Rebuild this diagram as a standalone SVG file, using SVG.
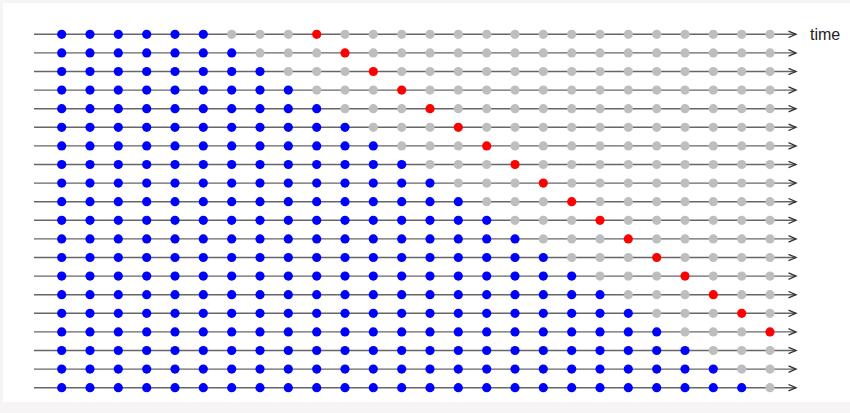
<svg xmlns="http://www.w3.org/2000/svg" width="850" height="413" viewBox="0 0 850 413">
<style>
.ln{stroke:#666;stroke-width:1.4;fill:none}
.tr{fill:#0000ff}
.ts{fill:#bebebe}
.fc{fill:#ff0000}
.lbl{font-family:"Liberation Sans",Arial,sans-serif;font-size:16px;fill:#222}
</style>
<defs>
<marker id="ah" markerWidth="10" markerHeight="8" refX="8" refY="4" orient="auto" markerUnits="userSpaceOnUse">
<path d="M0.5,0.8 L8,4 L0.5,7.2" fill="none" stroke="#333" stroke-width="1.3"/>
</marker>
<circle id="d" r="4.6"/>
</defs>
<rect x="0" y="0" width="850" height="413" fill="#f6f4f4"/>
<rect x="3" y="3" width="847" height="399" fill="#ffffff"/>
<g id="connectors">
<line class="ln" x1="34" y1="34.3" x2="796" y2="34.3" marker-end="url(#ah)"/>
<line class="ln" x1="34" y1="52.9" x2="796" y2="52.9" marker-end="url(#ah)"/>
<line class="ln" x1="34" y1="71.5" x2="796" y2="71.5" marker-end="url(#ah)"/>
<line class="ln" x1="34" y1="90.1" x2="796" y2="90.1" marker-end="url(#ah)"/>
<line class="ln" x1="34" y1="108.7" x2="796" y2="108.7" marker-end="url(#ah)"/>
<line class="ln" x1="34" y1="127.3" x2="796" y2="127.3" marker-end="url(#ah)"/>
<line class="ln" x1="34" y1="145.9" x2="796" y2="145.9" marker-end="url(#ah)"/>
<line class="ln" x1="34" y1="164.5" x2="796" y2="164.5" marker-end="url(#ah)"/>
<line class="ln" x1="34" y1="183.1" x2="796" y2="183.1" marker-end="url(#ah)"/>
<line class="ln" x1="34" y1="201.7" x2="796" y2="201.7" marker-end="url(#ah)"/>
<line class="ln" x1="34" y1="220.3" x2="796" y2="220.3" marker-end="url(#ah)"/>
<line class="ln" x1="34" y1="238.9" x2="796" y2="238.9" marker-end="url(#ah)"/>
<line class="ln" x1="34" y1="257.5" x2="796" y2="257.5" marker-end="url(#ah)"/>
<line class="ln" x1="34" y1="276.1" x2="796" y2="276.1" marker-end="url(#ah)"/>
<line class="ln" x1="34" y1="294.7" x2="796" y2="294.7" marker-end="url(#ah)"/>
<line class="ln" x1="34" y1="313.3" x2="796" y2="313.3" marker-end="url(#ah)"/>
<line class="ln" x1="34" y1="331.9" x2="796" y2="331.9" marker-end="url(#ah)"/>
<line class="ln" x1="34" y1="350.5" x2="796" y2="350.5" marker-end="url(#ah)"/>
<line class="ln" x1="34" y1="369.1" x2="796" y2="369.1" marker-end="url(#ah)"/>
<line class="ln" x1="34" y1="387.7" x2="796" y2="387.7" marker-end="url(#ah)"/>
</g>
<g id="rows">
<g id="row1" transform="translate(0,34.3)">
<use href="#d" class="tr" x="61.7"/><use href="#d" class="tr" x="90.0"/><use href="#d" class="tr" x="118.3"/><use href="#d" class="tr" x="146.7"/><use href="#d" class="tr" x="175.0"/><use href="#d" class="tr" x="203.3"/><use href="#d" class="ts" x="231.7"/><use href="#d" class="ts" x="260.0"/><use href="#d" class="ts" x="288.3"/><use href="#d" class="fc" x="316.7"/><use href="#d" class="ts" x="345.0"/><use href="#d" class="ts" x="373.3"/><use href="#d" class="ts" x="401.7"/><use href="#d" class="ts" x="430.0"/><use href="#d" class="ts" x="458.3"/><use href="#d" class="ts" x="486.7"/><use href="#d" class="ts" x="515.0"/><use href="#d" class="ts" x="543.3"/><use href="#d" class="ts" x="571.7"/><use href="#d" class="ts" x="600.0"/><use href="#d" class="ts" x="628.3"/><use href="#d" class="ts" x="656.7"/><use href="#d" class="ts" x="685.0"/><use href="#d" class="ts" x="713.3"/><use href="#d" class="ts" x="741.7"/><use href="#d" class="ts" x="770.0"/>
</g>
<g id="row2" transform="translate(0,52.9)">
<use href="#d" class="tr" x="61.7"/><use href="#d" class="tr" x="90.0"/><use href="#d" class="tr" x="118.3"/><use href="#d" class="tr" x="146.7"/><use href="#d" class="tr" x="175.0"/><use href="#d" class="tr" x="203.3"/><use href="#d" class="tr" x="231.7"/><use href="#d" class="ts" x="260.0"/><use href="#d" class="ts" x="288.3"/><use href="#d" class="ts" x="316.7"/><use href="#d" class="fc" x="345.0"/><use href="#d" class="ts" x="373.3"/><use href="#d" class="ts" x="401.7"/><use href="#d" class="ts" x="430.0"/><use href="#d" class="ts" x="458.3"/><use href="#d" class="ts" x="486.7"/><use href="#d" class="ts" x="515.0"/><use href="#d" class="ts" x="543.3"/><use href="#d" class="ts" x="571.7"/><use href="#d" class="ts" x="600.0"/><use href="#d" class="ts" x="628.3"/><use href="#d" class="ts" x="656.7"/><use href="#d" class="ts" x="685.0"/><use href="#d" class="ts" x="713.3"/><use href="#d" class="ts" x="741.7"/><use href="#d" class="ts" x="770.0"/>
</g>
<g id="row3" transform="translate(0,71.5)">
<use href="#d" class="tr" x="61.7"/><use href="#d" class="tr" x="90.0"/><use href="#d" class="tr" x="118.3"/><use href="#d" class="tr" x="146.7"/><use href="#d" class="tr" x="175.0"/><use href="#d" class="tr" x="203.3"/><use href="#d" class="tr" x="231.7"/><use href="#d" class="tr" x="260.0"/><use href="#d" class="ts" x="288.3"/><use href="#d" class="ts" x="316.7"/><use href="#d" class="ts" x="345.0"/><use href="#d" class="fc" x="373.3"/><use href="#d" class="ts" x="401.7"/><use href="#d" class="ts" x="430.0"/><use href="#d" class="ts" x="458.3"/><use href="#d" class="ts" x="486.7"/><use href="#d" class="ts" x="515.0"/><use href="#d" class="ts" x="543.3"/><use href="#d" class="ts" x="571.7"/><use href="#d" class="ts" x="600.0"/><use href="#d" class="ts" x="628.3"/><use href="#d" class="ts" x="656.7"/><use href="#d" class="ts" x="685.0"/><use href="#d" class="ts" x="713.3"/><use href="#d" class="ts" x="741.7"/><use href="#d" class="ts" x="770.0"/>
</g>
<g id="row4" transform="translate(0,90.1)">
<use href="#d" class="tr" x="61.7"/><use href="#d" class="tr" x="90.0"/><use href="#d" class="tr" x="118.3"/><use href="#d" class="tr" x="146.7"/><use href="#d" class="tr" x="175.0"/><use href="#d" class="tr" x="203.3"/><use href="#d" class="tr" x="231.7"/><use href="#d" class="tr" x="260.0"/><use href="#d" class="tr" x="288.3"/><use href="#d" class="ts" x="316.7"/><use href="#d" class="ts" x="345.0"/><use href="#d" class="ts" x="373.3"/><use href="#d" class="fc" x="401.7"/><use href="#d" class="ts" x="430.0"/><use href="#d" class="ts" x="458.3"/><use href="#d" class="ts" x="486.7"/><use href="#d" class="ts" x="515.0"/><use href="#d" class="ts" x="543.3"/><use href="#d" class="ts" x="571.7"/><use href="#d" class="ts" x="600.0"/><use href="#d" class="ts" x="628.3"/><use href="#d" class="ts" x="656.7"/><use href="#d" class="ts" x="685.0"/><use href="#d" class="ts" x="713.3"/><use href="#d" class="ts" x="741.7"/><use href="#d" class="ts" x="770.0"/>
</g>
<g id="row5" transform="translate(0,108.7)">
<use href="#d" class="tr" x="61.7"/><use href="#d" class="tr" x="90.0"/><use href="#d" class="tr" x="118.3"/><use href="#d" class="tr" x="146.7"/><use href="#d" class="tr" x="175.0"/><use href="#d" class="tr" x="203.3"/><use href="#d" class="tr" x="231.7"/><use href="#d" class="tr" x="260.0"/><use href="#d" class="tr" x="288.3"/><use href="#d" class="tr" x="316.7"/><use href="#d" class="ts" x="345.0"/><use href="#d" class="ts" x="373.3"/><use href="#d" class="ts" x="401.7"/><use href="#d" class="fc" x="430.0"/><use href="#d" class="ts" x="458.3"/><use href="#d" class="ts" x="486.7"/><use href="#d" class="ts" x="515.0"/><use href="#d" class="ts" x="543.3"/><use href="#d" class="ts" x="571.7"/><use href="#d" class="ts" x="600.0"/><use href="#d" class="ts" x="628.3"/><use href="#d" class="ts" x="656.7"/><use href="#d" class="ts" x="685.0"/><use href="#d" class="ts" x="713.3"/><use href="#d" class="ts" x="741.7"/><use href="#d" class="ts" x="770.0"/>
</g>
<g id="row6" transform="translate(0,127.3)">
<use href="#d" class="tr" x="61.7"/><use href="#d" class="tr" x="90.0"/><use href="#d" class="tr" x="118.3"/><use href="#d" class="tr" x="146.7"/><use href="#d" class="tr" x="175.0"/><use href="#d" class="tr" x="203.3"/><use href="#d" class="tr" x="231.7"/><use href="#d" class="tr" x="260.0"/><use href="#d" class="tr" x="288.3"/><use href="#d" class="tr" x="316.7"/><use href="#d" class="tr" x="345.0"/><use href="#d" class="ts" x="373.3"/><use href="#d" class="ts" x="401.7"/><use href="#d" class="ts" x="430.0"/><use href="#d" class="fc" x="458.3"/><use href="#d" class="ts" x="486.7"/><use href="#d" class="ts" x="515.0"/><use href="#d" class="ts" x="543.3"/><use href="#d" class="ts" x="571.7"/><use href="#d" class="ts" x="600.0"/><use href="#d" class="ts" x="628.3"/><use href="#d" class="ts" x="656.7"/><use href="#d" class="ts" x="685.0"/><use href="#d" class="ts" x="713.3"/><use href="#d" class="ts" x="741.7"/><use href="#d" class="ts" x="770.0"/>
</g>
<g id="row7" transform="translate(0,145.9)">
<use href="#d" class="tr" x="61.7"/><use href="#d" class="tr" x="90.0"/><use href="#d" class="tr" x="118.3"/><use href="#d" class="tr" x="146.7"/><use href="#d" class="tr" x="175.0"/><use href="#d" class="tr" x="203.3"/><use href="#d" class="tr" x="231.7"/><use href="#d" class="tr" x="260.0"/><use href="#d" class="tr" x="288.3"/><use href="#d" class="tr" x="316.7"/><use href="#d" class="tr" x="345.0"/><use href="#d" class="tr" x="373.3"/><use href="#d" class="ts" x="401.7"/><use href="#d" class="ts" x="430.0"/><use href="#d" class="ts" x="458.3"/><use href="#d" class="fc" x="486.7"/><use href="#d" class="ts" x="515.0"/><use href="#d" class="ts" x="543.3"/><use href="#d" class="ts" x="571.7"/><use href="#d" class="ts" x="600.0"/><use href="#d" class="ts" x="628.3"/><use href="#d" class="ts" x="656.7"/><use href="#d" class="ts" x="685.0"/><use href="#d" class="ts" x="713.3"/><use href="#d" class="ts" x="741.7"/><use href="#d" class="ts" x="770.0"/>
</g>
<g id="row8" transform="translate(0,164.5)">
<use href="#d" class="tr" x="61.7"/><use href="#d" class="tr" x="90.0"/><use href="#d" class="tr" x="118.3"/><use href="#d" class="tr" x="146.7"/><use href="#d" class="tr" x="175.0"/><use href="#d" class="tr" x="203.3"/><use href="#d" class="tr" x="231.7"/><use href="#d" class="tr" x="260.0"/><use href="#d" class="tr" x="288.3"/><use href="#d" class="tr" x="316.7"/><use href="#d" class="tr" x="345.0"/><use href="#d" class="tr" x="373.3"/><use href="#d" class="tr" x="401.7"/><use href="#d" class="ts" x="430.0"/><use href="#d" class="ts" x="458.3"/><use href="#d" class="ts" x="486.7"/><use href="#d" class="fc" x="515.0"/><use href="#d" class="ts" x="543.3"/><use href="#d" class="ts" x="571.7"/><use href="#d" class="ts" x="600.0"/><use href="#d" class="ts" x="628.3"/><use href="#d" class="ts" x="656.7"/><use href="#d" class="ts" x="685.0"/><use href="#d" class="ts" x="713.3"/><use href="#d" class="ts" x="741.7"/><use href="#d" class="ts" x="770.0"/>
</g>
<g id="row9" transform="translate(0,183.1)">
<use href="#d" class="tr" x="61.7"/><use href="#d" class="tr" x="90.0"/><use href="#d" class="tr" x="118.3"/><use href="#d" class="tr" x="146.7"/><use href="#d" class="tr" x="175.0"/><use href="#d" class="tr" x="203.3"/><use href="#d" class="tr" x="231.7"/><use href="#d" class="tr" x="260.0"/><use href="#d" class="tr" x="288.3"/><use href="#d" class="tr" x="316.7"/><use href="#d" class="tr" x="345.0"/><use href="#d" class="tr" x="373.3"/><use href="#d" class="tr" x="401.7"/><use href="#d" class="tr" x="430.0"/><use href="#d" class="ts" x="458.3"/><use href="#d" class="ts" x="486.7"/><use href="#d" class="ts" x="515.0"/><use href="#d" class="fc" x="543.3"/><use href="#d" class="ts" x="571.7"/><use href="#d" class="ts" x="600.0"/><use href="#d" class="ts" x="628.3"/><use href="#d" class="ts" x="656.7"/><use href="#d" class="ts" x="685.0"/><use href="#d" class="ts" x="713.3"/><use href="#d" class="ts" x="741.7"/><use href="#d" class="ts" x="770.0"/>
</g>
<g id="row10" transform="translate(0,201.7)">
<use href="#d" class="tr" x="61.7"/><use href="#d" class="tr" x="90.0"/><use href="#d" class="tr" x="118.3"/><use href="#d" class="tr" x="146.7"/><use href="#d" class="tr" x="175.0"/><use href="#d" class="tr" x="203.3"/><use href="#d" class="tr" x="231.7"/><use href="#d" class="tr" x="260.0"/><use href="#d" class="tr" x="288.3"/><use href="#d" class="tr" x="316.7"/><use href="#d" class="tr" x="345.0"/><use href="#d" class="tr" x="373.3"/><use href="#d" class="tr" x="401.7"/><use href="#d" class="tr" x="430.0"/><use href="#d" class="tr" x="458.3"/><use href="#d" class="ts" x="486.7"/><use href="#d" class="ts" x="515.0"/><use href="#d" class="ts" x="543.3"/><use href="#d" class="fc" x="571.7"/><use href="#d" class="ts" x="600.0"/><use href="#d" class="ts" x="628.3"/><use href="#d" class="ts" x="656.7"/><use href="#d" class="ts" x="685.0"/><use href="#d" class="ts" x="713.3"/><use href="#d" class="ts" x="741.7"/><use href="#d" class="ts" x="770.0"/>
</g>
<g id="row11" transform="translate(0,220.3)">
<use href="#d" class="tr" x="61.7"/><use href="#d" class="tr" x="90.0"/><use href="#d" class="tr" x="118.3"/><use href="#d" class="tr" x="146.7"/><use href="#d" class="tr" x="175.0"/><use href="#d" class="tr" x="203.3"/><use href="#d" class="tr" x="231.7"/><use href="#d" class="tr" x="260.0"/><use href="#d" class="tr" x="288.3"/><use href="#d" class="tr" x="316.7"/><use href="#d" class="tr" x="345.0"/><use href="#d" class="tr" x="373.3"/><use href="#d" class="tr" x="401.7"/><use href="#d" class="tr" x="430.0"/><use href="#d" class="tr" x="458.3"/><use href="#d" class="tr" x="486.7"/><use href="#d" class="ts" x="515.0"/><use href="#d" class="ts" x="543.3"/><use href="#d" class="ts" x="571.7"/><use href="#d" class="fc" x="600.0"/><use href="#d" class="ts" x="628.3"/><use href="#d" class="ts" x="656.7"/><use href="#d" class="ts" x="685.0"/><use href="#d" class="ts" x="713.3"/><use href="#d" class="ts" x="741.7"/><use href="#d" class="ts" x="770.0"/>
</g>
<g id="row12" transform="translate(0,238.9)">
<use href="#d" class="tr" x="61.7"/><use href="#d" class="tr" x="90.0"/><use href="#d" class="tr" x="118.3"/><use href="#d" class="tr" x="146.7"/><use href="#d" class="tr" x="175.0"/><use href="#d" class="tr" x="203.3"/><use href="#d" class="tr" x="231.7"/><use href="#d" class="tr" x="260.0"/><use href="#d" class="tr" x="288.3"/><use href="#d" class="tr" x="316.7"/><use href="#d" class="tr" x="345.0"/><use href="#d" class="tr" x="373.3"/><use href="#d" class="tr" x="401.7"/><use href="#d" class="tr" x="430.0"/><use href="#d" class="tr" x="458.3"/><use href="#d" class="tr" x="486.7"/><use href="#d" class="tr" x="515.0"/><use href="#d" class="ts" x="543.3"/><use href="#d" class="ts" x="571.7"/><use href="#d" class="ts" x="600.0"/><use href="#d" class="fc" x="628.3"/><use href="#d" class="ts" x="656.7"/><use href="#d" class="ts" x="685.0"/><use href="#d" class="ts" x="713.3"/><use href="#d" class="ts" x="741.7"/><use href="#d" class="ts" x="770.0"/>
</g>
<g id="row13" transform="translate(0,257.5)">
<use href="#d" class="tr" x="61.7"/><use href="#d" class="tr" x="90.0"/><use href="#d" class="tr" x="118.3"/><use href="#d" class="tr" x="146.7"/><use href="#d" class="tr" x="175.0"/><use href="#d" class="tr" x="203.3"/><use href="#d" class="tr" x="231.7"/><use href="#d" class="tr" x="260.0"/><use href="#d" class="tr" x="288.3"/><use href="#d" class="tr" x="316.7"/><use href="#d" class="tr" x="345.0"/><use href="#d" class="tr" x="373.3"/><use href="#d" class="tr" x="401.7"/><use href="#d" class="tr" x="430.0"/><use href="#d" class="tr" x="458.3"/><use href="#d" class="tr" x="486.7"/><use href="#d" class="tr" x="515.0"/><use href="#d" class="tr" x="543.3"/><use href="#d" class="ts" x="571.7"/><use href="#d" class="ts" x="600.0"/><use href="#d" class="ts" x="628.3"/><use href="#d" class="fc" x="656.7"/><use href="#d" class="ts" x="685.0"/><use href="#d" class="ts" x="713.3"/><use href="#d" class="ts" x="741.7"/><use href="#d" class="ts" x="770.0"/>
</g>
<g id="row14" transform="translate(0,276.1)">
<use href="#d" class="tr" x="61.7"/><use href="#d" class="tr" x="90.0"/><use href="#d" class="tr" x="118.3"/><use href="#d" class="tr" x="146.7"/><use href="#d" class="tr" x="175.0"/><use href="#d" class="tr" x="203.3"/><use href="#d" class="tr" x="231.7"/><use href="#d" class="tr" x="260.0"/><use href="#d" class="tr" x="288.3"/><use href="#d" class="tr" x="316.7"/><use href="#d" class="tr" x="345.0"/><use href="#d" class="tr" x="373.3"/><use href="#d" class="tr" x="401.7"/><use href="#d" class="tr" x="430.0"/><use href="#d" class="tr" x="458.3"/><use href="#d" class="tr" x="486.7"/><use href="#d" class="tr" x="515.0"/><use href="#d" class="tr" x="543.3"/><use href="#d" class="tr" x="571.7"/><use href="#d" class="ts" x="600.0"/><use href="#d" class="ts" x="628.3"/><use href="#d" class="ts" x="656.7"/><use href="#d" class="fc" x="685.0"/><use href="#d" class="ts" x="713.3"/><use href="#d" class="ts" x="741.7"/><use href="#d" class="ts" x="770.0"/>
</g>
<g id="row15" transform="translate(0,294.7)">
<use href="#d" class="tr" x="61.7"/><use href="#d" class="tr" x="90.0"/><use href="#d" class="tr" x="118.3"/><use href="#d" class="tr" x="146.7"/><use href="#d" class="tr" x="175.0"/><use href="#d" class="tr" x="203.3"/><use href="#d" class="tr" x="231.7"/><use href="#d" class="tr" x="260.0"/><use href="#d" class="tr" x="288.3"/><use href="#d" class="tr" x="316.7"/><use href="#d" class="tr" x="345.0"/><use href="#d" class="tr" x="373.3"/><use href="#d" class="tr" x="401.7"/><use href="#d" class="tr" x="430.0"/><use href="#d" class="tr" x="458.3"/><use href="#d" class="tr" x="486.7"/><use href="#d" class="tr" x="515.0"/><use href="#d" class="tr" x="543.3"/><use href="#d" class="tr" x="571.7"/><use href="#d" class="tr" x="600.0"/><use href="#d" class="ts" x="628.3"/><use href="#d" class="ts" x="656.7"/><use href="#d" class="ts" x="685.0"/><use href="#d" class="fc" x="713.3"/><use href="#d" class="ts" x="741.7"/><use href="#d" class="ts" x="770.0"/>
</g>
<g id="row16" transform="translate(0,313.3)">
<use href="#d" class="tr" x="61.7"/><use href="#d" class="tr" x="90.0"/><use href="#d" class="tr" x="118.3"/><use href="#d" class="tr" x="146.7"/><use href="#d" class="tr" x="175.0"/><use href="#d" class="tr" x="203.3"/><use href="#d" class="tr" x="231.7"/><use href="#d" class="tr" x="260.0"/><use href="#d" class="tr" x="288.3"/><use href="#d" class="tr" x="316.7"/><use href="#d" class="tr" x="345.0"/><use href="#d" class="tr" x="373.3"/><use href="#d" class="tr" x="401.7"/><use href="#d" class="tr" x="430.0"/><use href="#d" class="tr" x="458.3"/><use href="#d" class="tr" x="486.7"/><use href="#d" class="tr" x="515.0"/><use href="#d" class="tr" x="543.3"/><use href="#d" class="tr" x="571.7"/><use href="#d" class="tr" x="600.0"/><use href="#d" class="tr" x="628.3"/><use href="#d" class="ts" x="656.7"/><use href="#d" class="ts" x="685.0"/><use href="#d" class="ts" x="713.3"/><use href="#d" class="fc" x="741.7"/><use href="#d" class="ts" x="770.0"/>
</g>
<g id="row17" transform="translate(0,331.9)">
<use href="#d" class="tr" x="61.7"/><use href="#d" class="tr" x="90.0"/><use href="#d" class="tr" x="118.3"/><use href="#d" class="tr" x="146.7"/><use href="#d" class="tr" x="175.0"/><use href="#d" class="tr" x="203.3"/><use href="#d" class="tr" x="231.7"/><use href="#d" class="tr" x="260.0"/><use href="#d" class="tr" x="288.3"/><use href="#d" class="tr" x="316.7"/><use href="#d" class="tr" x="345.0"/><use href="#d" class="tr" x="373.3"/><use href="#d" class="tr" x="401.7"/><use href="#d" class="tr" x="430.0"/><use href="#d" class="tr" x="458.3"/><use href="#d" class="tr" x="486.7"/><use href="#d" class="tr" x="515.0"/><use href="#d" class="tr" x="543.3"/><use href="#d" class="tr" x="571.7"/><use href="#d" class="tr" x="600.0"/><use href="#d" class="tr" x="628.3"/><use href="#d" class="tr" x="656.7"/><use href="#d" class="ts" x="685.0"/><use href="#d" class="ts" x="713.3"/><use href="#d" class="ts" x="741.7"/><use href="#d" class="fc" x="770.0"/>
</g>
<g id="row18" transform="translate(0,350.5)">
<use href="#d" class="tr" x="61.7"/><use href="#d" class="tr" x="90.0"/><use href="#d" class="tr" x="118.3"/><use href="#d" class="tr" x="146.7"/><use href="#d" class="tr" x="175.0"/><use href="#d" class="tr" x="203.3"/><use href="#d" class="tr" x="231.7"/><use href="#d" class="tr" x="260.0"/><use href="#d" class="tr" x="288.3"/><use href="#d" class="tr" x="316.7"/><use href="#d" class="tr" x="345.0"/><use href="#d" class="tr" x="373.3"/><use href="#d" class="tr" x="401.7"/><use href="#d" class="tr" x="430.0"/><use href="#d" class="tr" x="458.3"/><use href="#d" class="tr" x="486.7"/><use href="#d" class="tr" x="515.0"/><use href="#d" class="tr" x="543.3"/><use href="#d" class="tr" x="571.7"/><use href="#d" class="tr" x="600.0"/><use href="#d" class="tr" x="628.3"/><use href="#d" class="tr" x="656.7"/><use href="#d" class="tr" x="685.0"/><use href="#d" class="ts" x="713.3"/><use href="#d" class="ts" x="741.7"/><use href="#d" class="ts" x="770.0"/>
</g>
<g id="row19" transform="translate(0,369.1)">
<use href="#d" class="tr" x="61.7"/><use href="#d" class="tr" x="90.0"/><use href="#d" class="tr" x="118.3"/><use href="#d" class="tr" x="146.7"/><use href="#d" class="tr" x="175.0"/><use href="#d" class="tr" x="203.3"/><use href="#d" class="tr" x="231.7"/><use href="#d" class="tr" x="260.0"/><use href="#d" class="tr" x="288.3"/><use href="#d" class="tr" x="316.7"/><use href="#d" class="tr" x="345.0"/><use href="#d" class="tr" x="373.3"/><use href="#d" class="tr" x="401.7"/><use href="#d" class="tr" x="430.0"/><use href="#d" class="tr" x="458.3"/><use href="#d" class="tr" x="486.7"/><use href="#d" class="tr" x="515.0"/><use href="#d" class="tr" x="543.3"/><use href="#d" class="tr" x="571.7"/><use href="#d" class="tr" x="600.0"/><use href="#d" class="tr" x="628.3"/><use href="#d" class="tr" x="656.7"/><use href="#d" class="tr" x="685.0"/><use href="#d" class="tr" x="713.3"/><use href="#d" class="ts" x="741.7"/><use href="#d" class="ts" x="770.0"/>
</g>
<g id="row20" transform="translate(0,387.7)">
<use href="#d" class="tr" x="61.7"/><use href="#d" class="tr" x="90.0"/><use href="#d" class="tr" x="118.3"/><use href="#d" class="tr" x="146.7"/><use href="#d" class="tr" x="175.0"/><use href="#d" class="tr" x="203.3"/><use href="#d" class="tr" x="231.7"/><use href="#d" class="tr" x="260.0"/><use href="#d" class="tr" x="288.3"/><use href="#d" class="tr" x="316.7"/><use href="#d" class="tr" x="345.0"/><use href="#d" class="tr" x="373.3"/><use href="#d" class="tr" x="401.7"/><use href="#d" class="tr" x="430.0"/><use href="#d" class="tr" x="458.3"/><use href="#d" class="tr" x="486.7"/><use href="#d" class="tr" x="515.0"/><use href="#d" class="tr" x="543.3"/><use href="#d" class="tr" x="571.7"/><use href="#d" class="tr" x="600.0"/><use href="#d" class="tr" x="628.3"/><use href="#d" class="tr" x="656.7"/><use href="#d" class="tr" x="685.0"/><use href="#d" class="tr" x="713.3"/><use href="#d" class="tr" x="741.7"/><use href="#d" class="ts" x="770.0"/>
</g>
</g>
<g id="label-time">
<text class="lbl" x="810" y="40.3">time</text>
</g>
</svg>
